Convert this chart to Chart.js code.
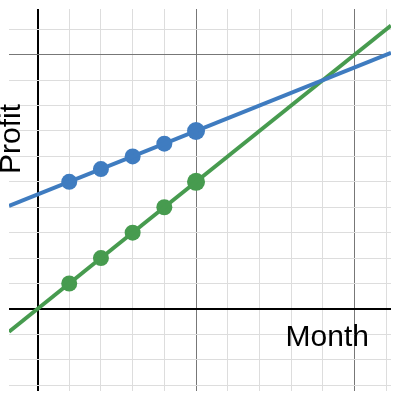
<!DOCTYPE html><html><head><style>html,body{margin:0;padding:0;background:#fff}#w{width:400px;height:400px}</style>
<script src="https://cdn.jsdelivr.net/npm/chart.js@4"></script></head><body><div id="w"><canvas id="c"></canvas></div>
<script>
const months=[1,2,3,4,5];
const blueProfit=[5,5.5,6,6.5,7];
const greenProfit=[1,2,3,4,5];
const lineX=[-0.9,11.15];
const blueLine=[4.05,10.075];
const greenLine=[-0.9,11.15];
const blue='#3f7cc0', green='#479b4f';
const labelsPlugin={id:'lbl',afterDraw(ch){const c=ch.ctx;c.save();c.fillStyle='#000';c.font='30px Arial, "Liberation Sans"';
c.textAlign='right';c.textBaseline='alphabetic';c.fillText('Month',369,346);
c.translate(20,0);c.rotate(-Math.PI/2);c.textAlign='right';c.textBaseline='alphabetic';c.fillText('Profit',-104,0);c.restore();}};
const grid=(m)=>({color:(x)=>{const v=x.tick.value;if(Math.abs(v)<1e-9)return '#000';return (Math.abs(v%m)<1e-9)?'#777':'#ddd';},
lineWidth:(x)=>Math.abs(x.tick.value)<1e-9?2:1,drawTicks:false});
const intTicks=(s)=>{const t=[];for(let v=Math.ceil(s.min);v<=Math.floor(s.max);v++)t.push({value:v});s.ticks=t;};
new Chart(document.getElementById('c'),{type:'scatter',
data:{datasets:[
{data:lineX.map((x,i)=>({x,y:blueLine[i]})),showLine:true,borderColor:blue,borderWidth:4,pointRadius:0},
{data:lineX.map((x,i)=>({x,y:greenLine[i]})),showLine:true,borderColor:green,borderWidth:4,pointRadius:0},
{data:months.map((x,i)=>({x,y:blueProfit[i]})),backgroundColor:blue,borderWidth:0,pointRadius:[8,8,8,8,9]},
{data:months.map((x,i)=>({x,y:greenProfit[i]})),backgroundColor:green,borderWidth:0,pointRadius:[8,8,8,8,9]}]},
options:{responsive:true,maintainAspectRatio:false,animation:false,layout:{padding:0},
plugins:{legend:{display:false},tooltip:{enabled:false}},
scales:{x:{type:'linear',min:-0.9,max:11.15,ticks:{display:false},grid:grid(5),border:{display:false},afterBuildTicks:intTicks,afterFit:(s)=>{s.height=0;}},
y:{type:'linear',min:-3.23,max:11.8,ticks:{display:false},grid:grid(10),border:{display:false},afterBuildTicks:intTicks,afterFit:(s)=>{s.width=0;}}}},
plugins:[labelsPlugin]});
</script></body></html>
